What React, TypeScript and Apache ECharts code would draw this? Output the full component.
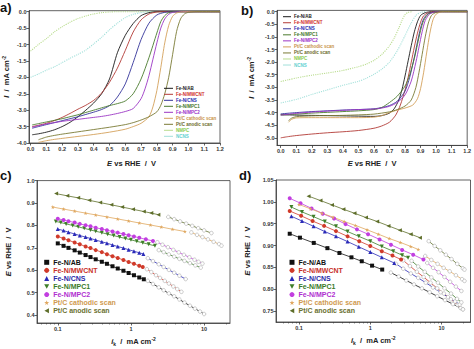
import React, { useEffect, useRef } from 'react';
import * as echarts from 'echarts';

const FONT = 'Liberation Sans, Arial, Helvetica, sans-serif';

// ---------- names / colours ----------
const lsvNames = ['Fe-N/AB', 'Fe-N/MWCNT', 'Fe-N/CNS', 'Fe-N/MPC1', 'Fe-N/MPC2', 'Pt/C cathodic scan', 'Pt/C anodic scan', 'NMPC', 'NCNS'];
const lsvColors = ['#1a1a1a', '#b23a36', '#33339a', '#4a7a2c', '#9b35c4', '#d4a05a', '#7a7a34', '#b9dc8e', '#a2e0da'];
const lsvTextColors = ['#1a1a1a', '#d0302a', '#2b2bb0', '#3f7a2a', '#9a30c8', '#c8924a', '#6a6a2a', '#86cc4c', '#62d0d0'];

const tafelNames = ['Fe-N/AB', 'Fe-N/MWCNT', 'Fe-N/CNS', 'Fe-N/MPC1', 'Fe-N/MPC2', 'Pt/C cathodic scan', 'Pt/C anodic scan'];
const tafelColors = ['#111111', '#d03a2a', '#2a2ab8', '#3e7e28', '#c23ee0', '#e0a860', '#5e6e2a'];
const tafelTextColors = ['#111111', '#c8302a', '#2a2aa8', '#3a7a28', '#b030d0', '#d09a50', '#6a7030'];
const STAR = 'path://M5,0 L6.2,3.6 L10,3.6 L6.9,5.9 L8.1,9.5 L5,7.3 L1.9,9.5 L3.1,5.9 L0,3.6 L3.8,3.6 Z';
const DOWN_TRI = 'path://M0,0 L10,0 L5,9 Z';
const LEFT_TRI = 'path://M9,0 L9,10 L0,5 Z';
const tafelSymbols = ['rect', 'circle', 'triangle', DOWN_TRI, 'circle', STAR, LEFT_TRI];

// ---------- tick labels ----------
const lsvXTicks = [0, 0.1, 0.2, 0.3, 0.4, 0.5, 0.6, 0.7, 0.8, 0.9, 1.0, 1.1, 1.2];
const aYTicks = [-4, -3.5, -3, -2.5, -2, -1.5, -1, -0.5, 0];
const bYTicks = [-5, -4.5, -4, -3.5, -3, -2.5, -2, -1.5, -1, -0.5, 0];
const cYTicks = [0.4, 0.5, 0.6, 0.7, 0.8, 0.9, 1.0];
const dYTicks = [0.75, 0.8, 0.85, 0.9, 0.95, 1.0, 1.05];
const logMajorTicks = [0.1, 1, 10];
const logMinorTicks = [0.06, 0.07, 0.08, 0.09, 0.2, 0.3, 0.4, 0.5, 0.6, 0.7, 0.8, 0.9, 2, 3, 4, 5, 6, 7, 8, 9, 20];

// ---------- panel a : LSV (E / V, I / mA cm-2) ----------
const aAB = [[0.01, -3.75], [0.05, -3.72], [0.1, -3.67], [0.15, -3.6], [0.2, -3.5], [0.25, -3.37], [0.3, -3.2], [0.35, -3.0], [0.4, -2.78], [0.45, -2.5], [0.5, -2.05], [0.55, -1.25], [0.6, -0.72], [0.65, -0.36], [0.7, -0.12], [0.75, -0.03], [0.8, 0], [1.2, 0]];
const aMWCNT = [[0.01, -3.5], [0.05, -3.46], [0.1, -3.4], [0.15, -3.32], [0.2, -3.22], [0.25, -3.1], [0.3, -2.97], [0.35, -2.85], [0.4, -2.7], [0.45, -2.48], [0.5, -2.15], [0.55, -1.72], [0.6, -1.18], [0.65, -0.62], [0.7, -0.25], [0.75, -0.07], [0.8, -0.01], [0.85, 0], [1.2, 0]];
const aCNS = [[0.01, -3.55], [0.05, -3.5], [0.1, -3.44], [0.15, -3.38], [0.2, -3.32], [0.25, -3.26], [0.3, -3.2], [0.35, -3.13], [0.4, -3.06], [0.45, -2.98], [0.5, -2.86], [0.55, -2.6], [0.6, -2.2], [0.65, -1.55], [0.7, -0.85], [0.75, -0.35], [0.8, -0.1], [0.85, -0.02], [0.9, 0], [1.2, 0]];
const aMPC1 = [[0.01, -3.45], [0.05, -3.41], [0.1, -3.36], [0.15, -3.31], [0.2, -3.26], [0.25, -3.2], [0.3, -3.14], [0.35, -3.07], [0.4, -3.0], [0.45, -2.93], [0.5, -2.86], [0.55, -2.8], [0.6, -2.72], [0.65, -2.5], [0.7, -2.05], [0.75, -1.4], [0.8, -0.65], [0.825, -0.3], [0.85, -0.12], [0.875, -0.03], [0.9, 0], [1.2, 0]];
const aMPC2 = [[0.01, -3.52], [0.05, -3.47], [0.1, -3.42], [0.15, -3.38], [0.2, -3.34], [0.25, -3.31], [0.3, -3.28], [0.35, -3.25], [0.4, -3.22], [0.45, -3.19], [0.5, -3.15], [0.55, -3.1], [0.6, -3.04], [0.65, -2.95], [0.7, -2.65], [0.725, -2.35], [0.75, -1.95], [0.775, -1.45], [0.8, -0.95], [0.825, -0.5], [0.85, -0.22], [0.875, -0.08], [0.9, -0.02], [0.95, 0], [1.2, 0]];
const aPtCc = [[0.05, -3.98], [0.1, -3.93], [0.15, -3.89], [0.2, -3.86], [0.3, -3.8], [0.4, -3.74], [0.5, -3.67], [0.6, -3.58], [0.65, -3.5], [0.7, -3.4], [0.75, -3.2], [0.775, -2.9], [0.8, -2.4], [0.825, -1.7], [0.85, -0.95], [0.875, -0.42], [0.9, -0.14], [0.925, -0.04], [0.95, -0.01], [1.0, 0], [1.2, 0]];
const aPtCa = [[0.05, -3.9], [0.1, -3.82], [0.15, -3.77], [0.2, -3.73], [0.3, -3.66], [0.4, -3.59], [0.5, -3.52], [0.6, -3.44], [0.65, -3.38], [0.7, -3.3], [0.75, -3.2], [0.8, -3.05], [0.825, -2.85], [0.85, -2.5], [0.875, -2.0], [0.9, -1.3], [0.925, -0.6], [0.95, -0.22], [0.975, -0.07], [1.0, -0.02], [1.05, 0], [1.2, 0]];
const aNMPC = [[0.0, -1.2], [0.05, -1.0], [0.1, -0.82], [0.15, -0.62], [0.2, -0.46], [0.25, -0.32], [0.3, -0.21], [0.35, -0.13], [0.4, -0.07], [0.45, -0.03], [0.5, -0.01], [0.55, 0], [1.2, 0]];
const aNCNS = [[0.0, -2.0], [0.05, -1.9], [0.1, -1.78], [0.15, -1.68], [0.2, -1.55], [0.25, -1.42], [0.3, -1.3], [0.35, -1.17], [0.4, -0.98], [0.45, -0.78], [0.5, -0.55], [0.55, -0.35], [0.6, -0.18], [0.65, -0.08], [0.7, -0.03], [0.75, 0], [1.2, 0]];

// ---------- panel b : LSV ----------
const bAB = [[0, -4.08], [0.1, -4.1], [0.2, -4.11], [0.3, -4.12], [0.4, -4.13], [0.5, -4.14], [0.6, -4.15], [0.65, -4.12], [0.7, -4.02], [0.73, -3.85], [0.76, -3.5], [0.78, -3.1], [0.8, -2.55], [0.82, -1.95], [0.84, -1.35], [0.86, -0.8], [0.88, -0.4], [0.9, -0.15], [0.93, -0.04], [0.97, 0], [1.2, 0]];
const bMWCNT = [[0, -5.0], [0.05, -4.95], [0.1, -4.91], [0.2, -4.85], [0.3, -4.8], [0.4, -4.76], [0.5, -4.71], [0.6, -4.62], [0.65, -4.53], [0.7, -4.38], [0.74, -4.1], [0.77, -3.7], [0.8, -3.1], [0.82, -2.6], [0.84, -2.0], [0.86, -1.4], [0.88, -0.85], [0.9, -0.42], [0.92, -0.16], [0.95, -0.04], [1.0, 0], [1.2, 0]];
const bCNS = [[0, -4.05], [0.1, -4.0], [0.2, -3.96], [0.3, -3.93], [0.4, -3.9], [0.5, -3.88], [0.6, -3.85], [0.65, -3.8], [0.7, -3.72], [0.75, -3.55], [0.8, -3.15], [0.83, -2.6], [0.86, -1.8], [0.88, -1.2], [0.9, -0.65], [0.92, -0.28], [0.95, -0.07], [1.0, -0.01], [1.03, 0], [1.2, 0]];
const bMPC1 = [[0, -4.1], [0.1, -4.06], [0.2, -4.02], [0.3, -3.99], [0.4, -3.96], [0.5, -3.93], [0.6, -3.88], [0.65, -3.8], [0.7, -3.6], [0.75, -3.35], [0.8, -2.95], [0.83, -2.5], [0.86, -1.85], [0.88, -1.3], [0.9, -0.75], [0.92, -0.35], [0.95, -0.09], [1.0, -0.01], [1.03, 0], [1.2, 0]];
const bMPC2 = [[0, -4.1], [0.1, -4.03], [0.2, -3.98], [0.3, -3.94], [0.4, -3.91], [0.5, -3.88], [0.6, -3.86], [0.65, -3.82], [0.7, -3.75], [0.75, -3.6], [0.8, -3.3], [0.84, -2.75], [0.87, -2.0], [0.89, -1.4], [0.91, -0.8], [0.93, -0.35], [0.96, -0.08], [1.0, -0.01], [1.03, 0], [1.2, 0]];
const bPtCc = [[0.05, -4.38], [0.07, -4.27], [0.1, -4.21], [0.2, -4.2], [0.3, -4.2], [0.4, -4.2], [0.5, -4.2], [0.6, -4.18], [0.65, -4.12], [0.7, -4.0], [0.75, -3.9], [0.8, -3.82], [0.85, -3.7], [0.88, -3.45], [0.9, -3.05], [0.92, -2.4], [0.94, -1.6], [0.96, -0.85], [0.98, -0.32], [1.0, -0.1], [1.03, -0.01], [1.06, 0], [1.2, 0]];
const bPtCa = [[0.05, -4.32], [0.07, -4.22], [0.1, -4.16], [0.2, -4.13], [0.3, -4.12], [0.4, -4.11], [0.5, -4.09], [0.6, -4.06], [0.7, -3.97], [0.75, -3.88], [0.8, -3.74], [0.84, -3.5], [0.87, -3.0], [0.89, -2.4], [0.91, -1.7], [0.93, -1.0], [0.95, -0.45], [0.97, -0.15], [1.0, -0.03], [1.04, 0], [1.2, 0]];
const bNMPC = [[0, -2.77], [0.05, -2.7], [0.1, -2.63], [0.15, -2.57], [0.2, -2.52], [0.3, -2.43], [0.4, -2.33], [0.5, -2.18], [0.55, -2.08], [0.6, -1.93], [0.65, -1.7], [0.7, -1.35], [0.73, -1.05], [0.76, -0.65], [0.78, -0.35], [0.8, -0.12], [0.82, -0.03], [0.85, 0]];
const bNCNS = [[0, -3.62], [0.05, -3.55], [0.1, -3.48], [0.15, -3.38], [0.2, -3.28], [0.3, -3.1], [0.4, -2.92], [0.5, -2.76], [0.55, -2.64], [0.6, -2.48], [0.65, -2.28], [0.7, -2.0], [0.75, -1.55], [0.8, -0.95], [0.84, -0.45], [0.87, -0.15], [0.9, -0.03], [0.93, 0]];

// ---------- panel c : Tafel (ik / mA cm-2, E / V) ----------
const cAB = [[0.1, 0.72], [0.12, 0.709], [0.14, 0.7], [0.17, 0.689], [0.2, 0.679], [0.24, 0.668], [0.28, 0.659], [0.33, 0.649], [0.4, 0.638], [0.47, 0.629], [0.56, 0.618], [0.66, 0.608], [0.79, 0.598], [0.93, 0.588], [1.1, 0.578], [1.3, 0.568], [1.5, 0.56]];
const cABo = [[1.7, 0.553], [2.0, 0.539], [2.4, 0.524], [2.8, 0.511], [3.3, 0.497], [3.9, 0.484], [4.6, 0.47], [5.4, 0.456], [6.4, 0.442], [7.5, 0.429], [8.8, 0.416], [10, 0.405]];
const cMWCNT = [[0.1, 0.751], [0.12, 0.742], [0.14, 0.734], [0.17, 0.724], [0.2, 0.716], [0.24, 0.706], [0.28, 0.699], [0.33, 0.69], [0.4, 0.681], [0.47, 0.672], [0.56, 0.663], [0.66, 0.655], [0.79, 0.646], [0.93, 0.637], [1.1, 0.629], [1.3, 0.62], [1.45, 0.615]];
const cMWCNTo = [[1.65, 0.605], [1.9, 0.592], [2.2, 0.578], [2.5, 0.566], [2.9, 0.553], [3.3, 0.541], [3.8, 0.528], [4.3, 0.516], [4.9, 0.504]];
const cCNS = [[0.1, 0.784], [0.12, 0.777], [0.14, 0.77], [0.17, 0.762], [0.2, 0.755], [0.24, 0.748], [0.28, 0.742], [0.33, 0.735], [0.4, 0.727], [0.47, 0.721], [0.56, 0.713], [0.66, 0.706], [0.79, 0.699], [0.93, 0.692], [1.1, 0.685], [1.3, 0.678], [1.48, 0.673]];
const cCNSo = [[1.7, 0.654], [2.0, 0.641], [2.4, 0.627], [2.8, 0.615], [3.3, 0.602], [3.9, 0.589], [4.6, 0.576], [5.6, 0.561]];
const cMPC1 = [[0.094, 0.818], [0.11, 0.813], [0.13, 0.807], [0.16, 0.8], [0.19, 0.794], [0.23, 0.787], [0.28, 0.78], [0.33, 0.774], [0.4, 0.768], [0.48, 0.761], [0.58, 0.755], [0.7, 0.748], [0.84, 0.742], [1.0, 0.736], [1.2, 0.729], [1.45, 0.723], [1.75, 0.716], [2.13, 0.709]];
const cMPC1o = [[2.4, 0.69], [2.8, 0.681], [3.3, 0.671], [3.9, 0.661], [4.6, 0.651], [5.4, 0.642], [6.4, 0.632], [7.6, 0.622], [9, 0.612]];
const cMPC2 = [[0.1, 0.83], [0.12, 0.824], [0.14, 0.819], [0.17, 0.813], [0.2, 0.807], [0.24, 0.801], [0.28, 0.796], [0.33, 0.79], [0.4, 0.784], [0.47, 0.779], [0.56, 0.773], [0.66, 0.768], [0.79, 0.762], [0.93, 0.756], [1.1, 0.751], [1.3, 0.745], [1.6, 0.738], [2.0, 0.731]];
const cMPC2o = [[2.3, 0.725], [2.7, 0.714], [3.2, 0.703], [3.8, 0.691], [4.5, 0.68], [5.3, 0.669], [6.3, 0.658], [7.4, 0.647], [8.4, 0.638], [9.5, 0.63]];
const cPtCc = [[0.0855, 0.882], [0.12, 0.873], [0.17, 0.864], [0.24, 0.855], [0.33, 0.847], [0.47, 0.838], [0.66, 0.829], [0.93, 0.82], [1.3, 0.811], [1.85, 0.802], [2.6, 0.793], [3.7, 0.783], [5.46, 0.773]];
const cPtCco = [[6.7, 0.769], [8.0, 0.758], [9.5, 0.748], [11.3, 0.738], [13.5, 0.727], [16, 0.717], [17.3, 0.71]];
const cPtCa = [[0.095, 0.942], [0.135, 0.932], [0.19, 0.923], [0.27, 0.912], [0.38, 0.902], [0.54, 0.892], [0.76, 0.882], [1.07, 0.872], [1.5, 0.862], [1.9, 0.855], [2.37, 0.848]];
const cPtCao = [[3.24, 0.838], [3.9, 0.828], [4.7, 0.818], [5.7, 0.808], [6.9, 0.798], [8.3, 0.788], [10, 0.778], [12.6, 0.766]];

// ---------- panel d : Tafel ----------
const dAB = [[0.074, 0.927], [0.103, 0.918], [0.161, 0.906], [0.25, 0.894], [0.369, 0.883], [0.544, 0.873], [0.759, 0.864], [1.06, 0.854], [1.47, 0.845]];
const dABo = [[1.94, 0.838], [2.5, 0.829], [3.2, 0.82], [4.1, 0.811], [5.3, 0.802], [6.8, 0.793], [8.7, 0.784], [11.2, 0.775], [14.4, 0.766], [18.5, 0.757], [19.9, 0.754]];
const dMWCNT = [[0.074, 0.979], [0.107, 0.968], [0.155, 0.956], [0.225, 0.945], [0.33, 0.933], [0.48, 0.921], [0.7, 0.91], [1.0, 0.899], [1.45, 0.887], [2.05, 0.877], [2.71, 0.868]];
const dMWCNTo = [[2.9, 0.866], [3.6, 0.853], [4.5, 0.84], [5.6, 0.828], [7.0, 0.815], [8.7, 0.802], [10.8, 0.79], [13.5, 0.777], [16.8, 0.764], [20, 0.754]];
const dCNS = [[0.078, 0.967], [0.11, 0.956], [0.16, 0.944], [0.23, 0.932], [0.33, 0.921], [0.48, 0.909], [0.69, 0.897], [1.0, 0.885], [1.45, 0.873], [2.17, 0.86]];
const dCNSo = [[2.3, 0.858], [2.9, 0.847], [3.7, 0.836], [4.7, 0.826], [6.0, 0.815], [7.6, 0.804], [9.7, 0.793], [12.3, 0.782], [15.5, 0.772], [18, 0.765]];
const dMPC1 = [[0.078, 0.988], [0.11, 0.977], [0.16, 0.966], [0.23, 0.955], [0.33, 0.944], [0.48, 0.932], [0.69, 0.921], [1.0, 0.91], [1.45, 0.898], [2.1, 0.887], [2.8, 0.878], [3.39, 0.872]];
const dMPC1o = [[3.8, 0.865], [4.7, 0.852], [5.8, 0.84], [7.2, 0.827], [8.9, 0.815], [11, 0.802], [13.6, 0.79], [16.5, 0.778], [19, 0.77]];
const dMPC2 = [[0.074, 1.008], [0.105, 0.997], [0.15, 0.985], [0.215, 0.973], [0.31, 0.962], [0.45, 0.949], [0.65, 0.937], [0.93, 0.926], [1.35, 0.914], [1.95, 0.902], [2.8, 0.89], [4.0, 0.879], [5.57, 0.868]];
const dMPC2o = [[6.3, 0.86], [7.6, 0.849], [9.1, 0.839], [11, 0.828], [13.2, 0.817], [15.9, 0.806], [19, 0.796]];
const dPtCc = [[0.1, 0.994], [0.145, 0.984], [0.21, 0.974], [0.3, 0.965], [0.43, 0.955], [0.62, 0.946], [0.9, 0.936], [1.3, 0.926], [1.85, 0.916], [2.65, 0.907], [3.7, 0.898], [4.72, 0.891]];
const dPtCco = [[5.9, 0.876], [7.2, 0.867], [8.8, 0.858], [10.7, 0.849], [13, 0.841], [15.9, 0.832], [19.4, 0.823], [21, 0.819]];
const dPtCa = [[0.136, 1.013], [0.2, 1.003], [0.29, 0.993], [0.42, 0.983], [0.6, 0.974], [0.87, 0.964], [1.25, 0.955], [1.8, 0.945], [2.6, 0.935], [3.7, 0.926], [4.98, 0.918]];
const dPtCao = [[6.6, 0.91], [8.0, 0.899], [9.6, 0.889], [11.5, 0.879], [13.8, 0.869], [16.6, 0.858], [19.9, 0.848], [21, 0.845]];

const lsvA = [aAB, aMWCNT, aCNS, aMPC1, aMPC2, aPtCc, aPtCa, aNMPC, aNCNS];
const lsvB = [bAB, bMWCNT, bCNS, bMPC1, bMPC2, bPtCc, bPtCa, bNMPC, bNCNS];
const tafC = [cAB, cMWCNT, cCNS, cMPC1, cMPC2, cPtCc, cPtCa];
const tafCo = [cABo, cMWCNTo, cCNSo, cMPC1o, cMPC2o, cPtCco, cPtCao];
const tafD = [dAB, dMWCNT, dCNS, dMPC1, dMPC2, dPtCc, dPtCa];
const tafDo = [dABo, dMWCNTo, dCNSo, dMPC1o, dMPC2o, dPtCco, dPtCao];

const AX = '#3a3a3a';
const labelStyle = { fontSize: 5.5, fontWeight: 'bold', color: '#333', fontFamily: FONT };
const titleRich = {
  n: { fontSize: 7.5, fontWeight: 'bold', color: '#222', fontFamily: FONT, lineHeight: 10 },
  i: { fontSize: 7.5, fontWeight: 'bold', fontStyle: 'italic', color: '#222', fontFamily: FONT, lineHeight: 10 },
  sup: { fontSize: 5, fontWeight: 'bold', color: '#222', fontFamily: FONT, lineHeight: 5, verticalAlign: 'top' },
  sub: { fontSize: 5, fontWeight: 'bold', color: '#222', fontFamily: FONT, lineHeight: 5, verticalAlign: 'bottom' },
};

function valueAxis(gridIndex: number, min: number, max: number, ticks: number[], fmt: (v: number) => string, extra: any = {}) {
  return {
    type: 'value', gridIndex, min, max, scale: false,
    axisLine: { show: true, onZero: false, lineStyle: { color: AX, width: 0.8 } },
    axisTick: { show: true, length: 2.5, customValues: ticks, lineStyle: { color: AX, width: 0.8 } },
    axisLabel: { ...labelStyle, margin: 2.5, customValues: ticks, formatter: fmt },
    splitLine: { show: false },
    ...extra,
  };
}
function minorAxis(gridIndex: number, min: number, max: number) {
  return {
    type: 'value', gridIndex, min, max, position: 'bottom',
    axisLine: { show: false },
    axisTick: { show: true, length: 1.5, customValues: logMinorTicks.map((v) => Math.log10(v)), lineStyle: { color: AX, width: 0.6 } },
    axisLabel: { show: false },
    splitLine: { show: false },
  };
}

const f1 = (v: number) => v.toFixed(1);
const f2 = (v: number) => v.toFixed(2);
const fLog = (v: number) => String(Number(Math.pow(10, v).toPrecision(1)));
const log = (v: number) => Math.log10(v);

const lsvSeries = (data: number[][][], idx: number, tag: string) =>
  data.map((d, i) => ({
    name: lsvNames[i] + tag, type: 'line', xAxisIndex: idx, yAxisIndex: idx, data: d,
    symbol: 'none', smooth: 0.25, silent: true, z: i >= 7 ? 1 : 2,
    lineStyle: { color: lsvColors[i], width: i >= 7 ? 1.1 : 0.9, type: i >= 7 ? 'dotted' : 'solid' },
    itemStyle: { color: lsvColors[i] },
  }));

const tafelSeries = (filled: number[][][], open: number[][][], idx: number, tag: string) => [
  ...open.map((d, i) => ({
    name: tafelNames[i] + tag + 'o', type: 'line', xAxisIndex: idx, yAxisIndex: idx,
    data: d.map(([ik, e]) => [log(ik), e]), symbol: 'circle', symbolSize: 3.6, silent: true, z: 2,
    lineStyle: { color: tafelColors[i], width: 0.8 },
    itemStyle: { color: '#ffffff', borderColor: '#a8a8a8', borderWidth: 0.6 },
  })),
  ...filled.map((d, i) => ({
    name: tafelNames[i] + tag, type: 'line', xAxisIndex: idx, yAxisIndex: idx,
    data: d.map(([ik, e]) => [log(ik), e]), symbol: tafelSymbols[i], symbolSize: 4, silent: true, z: 3,
    lineStyle: { color: tafelColors[i], width: 0.8 },
    itemStyle: { color: tafelColors[i] },
  })),
];

const legendFmt = (name: string) => name.split('#')[0];

const option: any = {
  animation: false,
  backgroundColor: '#ffffff',
  textStyle: { fontFamily: FONT },
  grid: [
    { left: 27, top: 10.7, width: 193, height: 132.3, show: true, borderColor: AX, borderWidth: 0.8, backgroundColor: 'transparent' },
    { left: 277, top: 10.4, width: 192, height: 135, show: true, borderColor: AX, borderWidth: 0.8, backgroundColor: 'transparent' },
    { left: 37, top: 180.6, width: 193, height: 142.4, show: true, borderColor: AX, borderWidth: 0.8, backgroundColor: 'transparent' },
    { left: 276, top: 180, width: 194.5, height: 142, show: true, borderColor: AX, borderWidth: 0.8, backgroundColor: 'transparent' },
  ],
  xAxis: [
    valueAxis(0, -0.01, 1.2, lsvXTicks, f1, { name: '{i|E}{n| vs RHE  /  V}', nameLocation: 'middle', nameGap: 15, nameTextStyle: { rich: titleRich, padding: [0, 0, 0, 14] } }),
    valueAxis(1, -0.024, 1.2, lsvXTicks, f1, { name: '{i|E}{n| vs RHE  /  V}', nameLocation: 'middle', nameGap: 13, nameTextStyle: { rich: titleRich } }),
    valueAxis(2, log(0.052), log(22.6), logMajorTicks.map(log), fLog, { name: '{i|i}{sub|k}{n|  /  mA cm}{sup|-2}', nameLocation: 'middle', nameGap: 13, nameTextStyle: { rich: titleRich } }),
    valueAxis(3, log(0.0475), log(25.5), logMajorTicks.map(log), fLog, { name: '{i|i}{sub|k}{n|  /  mA cm}{sup|-2}', nameLocation: 'middle', nameGap: 13, nameTextStyle: { rich: titleRich } }),
    minorAxis(2, log(0.052), log(22.6)),
    minorAxis(3, log(0.0475), log(25.5)),
  ],
  yAxis: [
    valueAxis(0, -4.0, 0.03, aYTicks, f1, { name: '{i|I}{n|  /  mA cm}{sup|-2}', nameLocation: 'middle', nameGap: 18, nameRotate: 90, nameTextStyle: { rich: titleRich } }),
    valueAxis(1, -5.3, 0.05, bYTicks, f1, { name: '{i|I}{n|  /  mA cm}{sup|-2}', nameLocation: 'middle', nameGap: 21, nameRotate: 90, nameTextStyle: { rich: titleRich } }),
    valueAxis(2, 0.365, 1.0, cYTicks, f1, { name: '{i|E}{n| vs RHE  /  V}', nameLocation: 'middle', nameGap: 24, nameRotate: 90, nameTextStyle: { rich: titleRich } }),
    valueAxis(3, 0.725, 1.05, dYTicks, f2, { name: '{i|E}{n| vs RHE  /  V}', nameLocation: 'middle', nameGap: 24, nameRotate: 90, nameTextStyle: { rich: titleRich } }),
  ],
  legend: [
    {
      left: 164, top: 85.8, orient: 'vertical', itemWidth: 9, itemHeight: 1, itemGap: 1, padding: 0,
      selectedMode: false, formatter: legendFmt, icon: 'rect',
      textStyle: { fontSize: 4.5, lineHeight: 5, fontFamily: FONT, fontWeight: 'bold', padding: [0, 0, 0, -2] },
      data: lsvNames.map((n, i) => ({ name: n + '#a', textStyle: { color: lsvTextColors[i] } })),
    },
    {
      left: 283, top: 14.2, orient: 'vertical', itemWidth: 8, itemHeight: 1, itemGap: 1.04, padding: 0,
      selectedMode: false, formatter: legendFmt, icon: 'rect',
      textStyle: { fontSize: 4.5, lineHeight: 5, fontFamily: FONT, fontWeight: 'bold', padding: [0, 0, 0, -2] },
      data: lsvNames.map((n, i) => ({ name: n + '#b', textStyle: { color: lsvTextColors[i] } })),
    },
    {
      left: 44.2, top: 258.8, orient: 'vertical', itemWidth: 5, itemHeight: 5, itemGap: 1.07, padding: 0,
      selectedMode: false, formatter: legendFmt,
      textStyle: { fontSize: 7, lineHeight: 7, fontFamily: FONT, fontWeight: 'bold', padding: [0, 0, 0, -1] },
      data: tafelNames.map((n, i) => ({ name: n + '#c', icon: tafelSymbols[i], textStyle: { color: tafelTextColors[i] } })),
    },
    {
      left: 289.5, top: 258.8, orient: 'vertical', itemWidth: 5, itemHeight: 5, itemGap: 1.07, padding: 0,
      selectedMode: false, formatter: legendFmt,
      textStyle: { fontSize: 7, lineHeight: 7, fontFamily: FONT, fontWeight: 'bold', padding: [0, 0, 0, -1] },
      data: tafelNames.map((n, i) => ({ name: n + '#d', icon: tafelSymbols[i], textStyle: { color: tafelTextColors[i] } })),
    },
  ],
  graphic: [
    { type: 'text', left: 0, top: 1, style: { text: 'a)', font: `bold 13px ${FONT}`, fill: '#111' } },
    { type: 'text', left: 241, top: 4, style: { text: 'b)', font: `bold 13px ${FONT}`, fill: '#111' } },
    { type: 'text', left: 0, top: 169, style: { text: 'c)', font: `bold 13px ${FONT}`, fill: '#111' } },
    { type: 'text', left: 239, top: 169, style: { text: 'd)', font: `bold 13px ${FONT}`, fill: '#111' } },
  ],
  series: [
    ...lsvSeries(lsvA, 0, '#a'),
    ...lsvSeries(lsvB, 1, '#b'),
    ...tafelSeries(tafC, tafCo, 2, '#c'),
    ...tafelSeries(tafD, tafDo, 3, '#d'),
  ],
};

export default function App() {
  const ref = useRef<HTMLDivElement>(null);
  useEffect(() => {
    document.body.style.margin = '0';
    const chart = echarts.init(ref.current as HTMLDivElement, null, { renderer: 'svg' });
    chart.setOption(option);
    return () => chart.dispose();
  }, []);
  return <div ref={ref} style={{ width: 474, height: 349, background: '#fff' }} />;
}
